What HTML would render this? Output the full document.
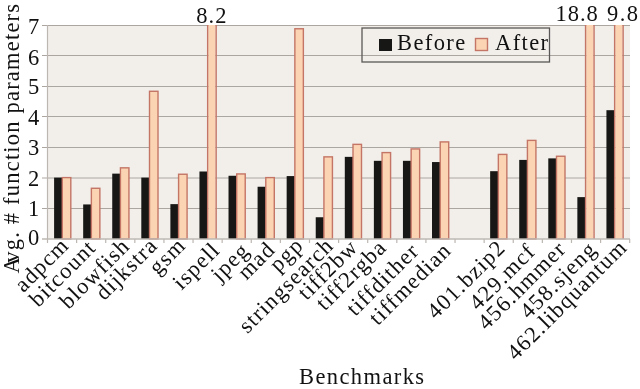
<!DOCTYPE html>
<html><head><meta charset="utf-8"><style>
html,body{margin:0;padding:0;background:#fff;}
svg{display:block;}
.t{font-family:'Liberation Serif', 'Times New Roman', serif;font-size:22.5px;letter-spacing:1.4px;fill:#111;}
</style></head><body>
<svg width="640" height="389" viewBox="0 0 640 389">
<rect x="47.50" y="25.0" width="582.50" height="213.6" fill="#f2efeb"/>
<line x1="42" y1="208.5" x2="630.0" y2="208.5" stroke="#aca6a1" stroke-width="1"/>
<line x1="42" y1="178.0" x2="630.0" y2="178.0" stroke="#aca6a1" stroke-width="1"/>
<line x1="42" y1="147.5" x2="630.0" y2="147.5" stroke="#aca6a1" stroke-width="1"/>
<line x1="42" y1="116.5" x2="630.0" y2="116.5" stroke="#aca6a1" stroke-width="1"/>
<line x1="42" y1="86.5" x2="630.0" y2="86.5" stroke="#aca6a1" stroke-width="1"/>
<line x1="42" y1="55.5" x2="630.0" y2="55.5" stroke="#aca6a1" stroke-width="1"/>
<line x1="42" y1="25.5" x2="630.0" y2="25.5" stroke="#aca6a1" stroke-width="1"/>
<rect x="54.10" y="177.60" width="8.2" height="61.40" fill="#171715"/>
<rect x="62.30" y="177.60" width="8.5" height="61.40" fill="#fbd4b3" stroke="#c47565" stroke-width="1.4"/>
<rect x="83.17" y="204.44" width="8.2" height="34.56" fill="#171715"/>
<rect x="91.37" y="188.28" width="8.5" height="50.72" fill="#fbd4b3" stroke="#c47565" stroke-width="1.4"/>
<rect x="112.24" y="173.63" width="8.2" height="65.37" fill="#171715"/>
<rect x="120.44" y="167.84" width="8.5" height="71.16" fill="#fbd4b3" stroke="#c47565" stroke-width="1.4"/>
<rect x="141.31" y="177.60" width="8.2" height="61.40" fill="#171715"/>
<rect x="149.51" y="91.28" width="8.5" height="147.72" fill="#fbd4b3" stroke="#c47565" stroke-width="1.4"/>
<rect x="170.38" y="204.13" width="8.2" height="34.87" fill="#171715"/>
<rect x="178.58" y="174.25" width="8.5" height="64.75" fill="#fbd4b3" stroke="#c47565" stroke-width="1.4"/>
<rect x="199.45" y="171.50" width="8.2" height="67.50" fill="#171715"/>
<rect x="208.35" y="25.00" width="7.10" height="214.00" fill="#fbd4b3"/>
<path d="M207.65 25.0 V239.0 M216.15 25.0 V239.0" stroke="#c47565" stroke-width="1.4" fill="none"/>
<rect x="228.52" y="175.77" width="8.2" height="63.23" fill="#171715"/>
<rect x="236.72" y="173.94" width="8.5" height="65.06" fill="#fbd4b3" stroke="#c47565" stroke-width="1.4"/>
<rect x="257.59" y="186.75" width="8.2" height="52.25" fill="#171715"/>
<rect x="265.79" y="177.60" width="8.5" height="61.40" fill="#fbd4b3" stroke="#c47565" stroke-width="1.4"/>
<rect x="286.66" y="176.07" width="8.2" height="62.93" fill="#171715"/>
<rect x="294.86" y="28.76" width="8.5" height="210.24" fill="#fbd4b3" stroke="#c47565" stroke-width="1.4"/>
<rect x="315.73" y="217.25" width="8.2" height="21.75" fill="#171715"/>
<rect x="323.93" y="156.86" width="8.5" height="82.14" fill="#fbd4b3" stroke="#c47565" stroke-width="1.4"/>
<rect x="344.80" y="156.86" width="8.2" height="82.14" fill="#171715"/>
<rect x="353.00" y="144.36" width="8.5" height="94.64" fill="#fbd4b3" stroke="#c47565" stroke-width="1.4"/>
<rect x="373.87" y="160.82" width="8.2" height="78.18" fill="#171715"/>
<rect x="382.07" y="152.59" width="8.5" height="86.41" fill="#fbd4b3" stroke="#c47565" stroke-width="1.4"/>
<rect x="402.94" y="160.82" width="8.2" height="78.18" fill="#171715"/>
<rect x="411.14" y="148.93" width="8.5" height="90.07" fill="#fbd4b3" stroke="#c47565" stroke-width="1.4"/>
<rect x="432.01" y="162.05" width="8.2" height="76.95" fill="#171715"/>
<rect x="440.21" y="141.91" width="8.5" height="97.09" fill="#fbd4b3" stroke="#c47565" stroke-width="1.4"/>
<rect x="490.15" y="171.19" width="8.2" height="67.81" fill="#171715"/>
<rect x="498.35" y="154.42" width="8.5" height="84.58" fill="#fbd4b3" stroke="#c47565" stroke-width="1.4"/>
<rect x="519.22" y="159.91" width="8.2" height="79.09" fill="#171715"/>
<rect x="527.42" y="140.39" width="8.5" height="98.61" fill="#fbd4b3" stroke="#c47565" stroke-width="1.4"/>
<rect x="548.29" y="158.38" width="8.2" height="80.62" fill="#171715"/>
<rect x="556.49" y="156.25" width="8.5" height="82.75" fill="#fbd4b3" stroke="#c47565" stroke-width="1.4"/>
<rect x="577.36" y="197.12" width="8.2" height="41.88" fill="#171715"/>
<rect x="586.26" y="25.00" width="7.10" height="214.00" fill="#fbd4b3"/>
<path d="M585.56 25.0 V239.0 M594.06 25.0 V239.0" stroke="#c47565" stroke-width="1.4" fill="none"/>
<rect x="606.43" y="110.19" width="8.2" height="128.81" fill="#171715"/>
<rect x="615.33" y="25.00" width="7.10" height="214.00" fill="#fbd4b3"/>
<path d="M614.63 25.0 V239.0 M623.13 25.0 V239.0" stroke="#c47565" stroke-width="1.4" fill="none"/>
<line x1="42" y1="239.0" x2="630.0" y2="239.0" stroke="#bdb7b2" stroke-width="1.5"/>
<line x1="47.5" y1="25.0" x2="47.5" y2="243.0" stroke="#bdb7b2" stroke-width="1.2"/>
<line x1="76.61" y1="239.0" x2="76.61" y2="243.0" stroke="#bdb7b2" stroke-width="1.2"/>
<line x1="105.72" y1="239.0" x2="105.72" y2="243.0" stroke="#bdb7b2" stroke-width="1.2"/>
<line x1="134.83" y1="239.0" x2="134.83" y2="243.0" stroke="#bdb7b2" stroke-width="1.2"/>
<line x1="163.94" y1="239.0" x2="163.94" y2="243.0" stroke="#bdb7b2" stroke-width="1.2"/>
<line x1="193.05" y1="239.0" x2="193.05" y2="243.0" stroke="#bdb7b2" stroke-width="1.2"/>
<line x1="222.16" y1="239.0" x2="222.16" y2="243.0" stroke="#bdb7b2" stroke-width="1.2"/>
<line x1="251.27" y1="239.0" x2="251.27" y2="243.0" stroke="#bdb7b2" stroke-width="1.2"/>
<line x1="280.38" y1="239.0" x2="280.38" y2="243.0" stroke="#bdb7b2" stroke-width="1.2"/>
<line x1="309.49" y1="239.0" x2="309.49" y2="243.0" stroke="#bdb7b2" stroke-width="1.2"/>
<line x1="338.60" y1="239.0" x2="338.60" y2="243.0" stroke="#bdb7b2" stroke-width="1.2"/>
<line x1="367.71" y1="239.0" x2="367.71" y2="243.0" stroke="#bdb7b2" stroke-width="1.2"/>
<line x1="396.82" y1="239.0" x2="396.82" y2="243.0" stroke="#bdb7b2" stroke-width="1.2"/>
<line x1="425.93" y1="239.0" x2="425.93" y2="243.0" stroke="#bdb7b2" stroke-width="1.2"/>
<line x1="455.04" y1="239.0" x2="455.04" y2="243.0" stroke="#bdb7b2" stroke-width="1.2"/>
<line x1="484.15" y1="239.0" x2="484.15" y2="243.0" stroke="#bdb7b2" stroke-width="1.2"/>
<line x1="513.26" y1="239.0" x2="513.26" y2="243.0" stroke="#bdb7b2" stroke-width="1.2"/>
<line x1="542.37" y1="239.0" x2="542.37" y2="243.0" stroke="#bdb7b2" stroke-width="1.2"/>
<line x1="571.48" y1="239.0" x2="571.48" y2="243.0" stroke="#bdb7b2" stroke-width="1.2"/>
<line x1="600.59" y1="239.0" x2="600.59" y2="243.0" stroke="#bdb7b2" stroke-width="1.2"/>
<line x1="629.70" y1="239.0" x2="629.70" y2="243.0" stroke="#bdb7b2" stroke-width="1.2"/>
<text x="39.3" y="245.0" text-anchor="end" class="t" style="letter-spacing:0">0</text>
<text x="39.3" y="216.0" text-anchor="end" class="t" style="letter-spacing:0">1</text>
<text x="39.3" y="185.5" text-anchor="end" class="t" style="letter-spacing:0">2</text>
<text x="39.3" y="155.0" text-anchor="end" class="t" style="letter-spacing:0">3</text>
<text x="39.3" y="125.0" text-anchor="end" class="t" style="letter-spacing:0">4</text>
<text x="39.3" y="94.0" text-anchor="end" class="t" style="letter-spacing:0">5</text>
<text x="39.3" y="64.5" text-anchor="end" class="t" style="letter-spacing:0">6</text>
<text x="39.3" y="34.0" text-anchor="end" class="t" style="letter-spacing:0">7</text>
<text transform="translate(64.80,240.80) rotate(-45)" text-anchor="end" dy="0.35em" class="t" style="letter-spacing:1.25px">adpcm</text>
<text transform="translate(91.80,243.15) rotate(-45)" text-anchor="end" dy="0.35em" class="t" style="letter-spacing:1.25px">bitcount</text>
<text transform="translate(125.60,241.60) rotate(-45)" text-anchor="end" dy="0.35em" class="t" style="letter-spacing:1.25px">blowfish</text>
<text transform="translate(153.40,241.00) rotate(-45)" text-anchor="end" dy="0.35em" class="t" style="letter-spacing:1.25px">dijkstra</text>
<text transform="translate(181.40,241.00) rotate(-45)" text-anchor="end" dy="0.35em" class="t" style="letter-spacing:1.25px">gsm</text>
<text transform="translate(215.80,245.50) rotate(-45)" text-anchor="end" dy="0.35em" class="t" style="letter-spacing:1.25px">ispell</text>
<text transform="translate(245.20,246.00) rotate(-45)" text-anchor="end" dy="0.35em" class="t" style="letter-spacing:1.25px">jpeg</text>
<text transform="translate(271.00,245.20) rotate(-45)" text-anchor="end" dy="0.35em" class="t" style="letter-spacing:1.25px">mad</text>
<text transform="translate(299.20,240.90) rotate(-45)" text-anchor="end" dy="0.35em" class="t" style="letter-spacing:1.25px">pgp</text>
<text transform="translate(329.40,241.20) rotate(-45)" text-anchor="end" dy="0.35em" class="t" style="letter-spacing:1.25px">stringsearch</text>
<text transform="translate(353.80,242.70) rotate(-45)" text-anchor="end" dy="0.35em" class="t" style="letter-spacing:1.25px">tiff2bw</text>
<text transform="translate(382.30,242.90) rotate(-45)" text-anchor="end" dy="0.35em" class="t" style="letter-spacing:1.25px">tiff2rgba</text>
<text transform="translate(414.80,246.40) rotate(-45)" text-anchor="end" dy="0.35em" class="t" style="letter-spacing:1.25px">tiffdither</text>
<text transform="translate(447.10,245.80) rotate(-45)" text-anchor="end" dy="0.35em" class="t" style="letter-spacing:1.25px">tiffmedian</text>
<text transform="translate(501.40,243.40) rotate(-45)" text-anchor="end" dy="0.35em" class="t" style="letter-spacing:1.25px">401.bzip2</text>
<text transform="translate(531.20,247.00) rotate(-45)" text-anchor="end" dy="0.35em" class="t" style="letter-spacing:1.25px">429.mcf</text>
<text transform="translate(561.80,244.60) rotate(-45)" text-anchor="end" dy="0.35em" class="t" style="letter-spacing:1.25px">456.hmmer</text>
<text transform="translate(592.60,244.90) rotate(-45)" text-anchor="end" dy="0.35em" class="t" style="letter-spacing:1.25px">458.sjeng</text>
<text transform="translate(622.90,242.90) rotate(-45)" text-anchor="end" dy="0.35em" class="t" style="letter-spacing:1.25px">462.libquantum</text>
<text x="196.2" y="22.5" class="t" style="letter-spacing:1.1px">8.2</text>
<text x="555.4" y="21" class="t" style="letter-spacing:1.0px">18.8</text>
<text x="607" y="21" class="t">9.8</text>
<rect x="362" y="28" width="187.5" height="34" fill="none" stroke="#5a5856" stroke-width="1.3"/>
<rect x="379" y="39" width="13" height="12" fill="#171715"/>
<text x="397" y="49.5" class="t">Before</text>
<rect x="475.5" y="38.5" width="12" height="12" fill="#fbd4b3" stroke="#c47565" stroke-width="1.4"/>
<text x="495" y="49.5" class="t">After</text>
<text transform="translate(18.8,273.5) rotate(-90)" class="t" style="letter-spacing:1.2px">A<tspan dx="-5">vg.</tspan> # function parameters</text>
<text x="299" y="383.5" class="t">Benchmarks</text>
</svg>
</body></html>
